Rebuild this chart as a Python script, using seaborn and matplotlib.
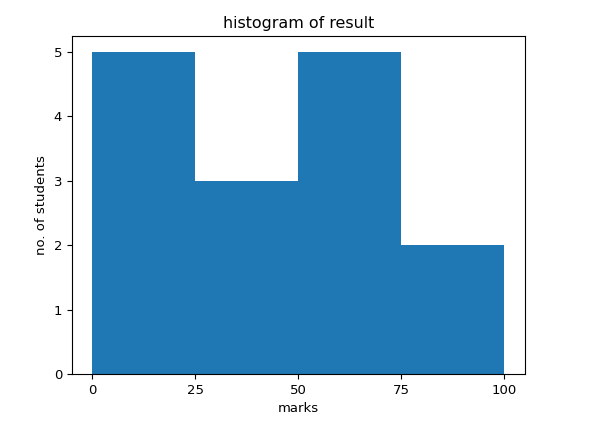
import matplotlib
matplotlib.use("Agg")
import seaborn as sns
from matplotlib import pyplot as plt

# bin edges and counts
bin_edges = [0, 25, 50, 75, 100]
bin_starts = [0, 25, 50, 75]
counts = [5, 3, 5, 2]

plt.rcParams["font.size"] = 9.5
fig = plt.figure(figsize=(5.99, 4.23), dpi=100)
ax = fig.add_axes([0.12, 0.116, 0.756, 0.799])

sns.histplot(x=bin_starts, weights=counts, bins=bin_edges, ax=ax,
             color="#1f77b4", alpha=1, edgecolor="none", linewidth=0)

ax.set_xticks([0, 25, 50, 75, 100])
ax.set_title("histogram of result")
ax.set_xlabel("marks")
ax.set_ylabel("no. of students")
plt.savefig("out.png", dpi=100)
